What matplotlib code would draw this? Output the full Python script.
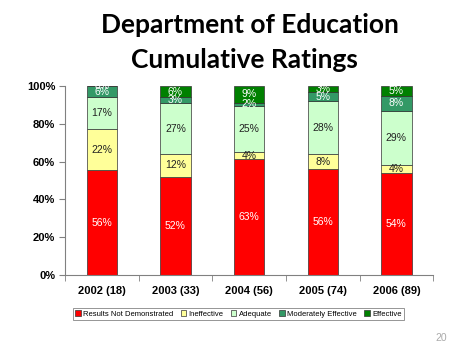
import numpy as np
import matplotlib.pyplot as plt
from matplotlib.patches import Patch

years = ["2002 (18)", "2003 (33)", "2004 (56)", "2005 (74)", "2006 (89)"]
series_names = ["Results Not Demonstrated", "Ineffective", "Adequate",
                "Moderately Effective", "Effective"]

not_demonstrated = [56, 52, 63, 56, 54]
ineffective = [22, 12, 4, 8, 4]
adequate = [17, 27, 25, 28, 29]
moderately = [6, 3, 2, 5, 8]
effective = [0, 6, 9, 3, 5]

COLORS = {
    "red": "#ff0000",
    "yellow": "#ffff99",
    "lightgreen": "#ccffcc",
    "midgreen": "#339966",
    "darkgreen": "#008000",
    "axis": "#808080",
}
fills = [COLORS["red"], COLORS["yellow"], COLORS["lightgreen"],
         COLORS["midgreen"], COLORS["darkgreen"]]
text_colors = ["white", "#222222", "#222222", "white", "white"]

plt.rcParams["font.family"] = ["Liberation Sans", "DejaVu Sans"]

fig = plt.figure(figsize=(4.74, 3.55), dpi=100, facecolor="white")
ax = fig.add_axes([0.137, 0.2254, 0.777, 0.532])

data = np.array([not_demonstrated, ineffective, adequate, moderately, effective], dtype=float)
totals = data.sum(axis=0)
shares = data / totals * 100  # bars are drawn as 100% stacks
x = np.arange(len(years))

bottom = np.zeros(len(years))
for vals, raw, fc, tc in zip(shares, data, fills, text_colors):
    ax.bar(x, vals, 0.41, bottom=bottom, color=fc, edgecolor="#333333", lw=0.5)
    for xi, b, v, r in zip(x, bottom, vals, raw):
        ax.text(xi, b + v / 2, f"{r:.0f}%", ha="center", va="center",
                fontsize=7.5, color=tc)
    bottom += vals

ax.set_xlim(-0.5, len(years) - 0.5)
ax.set_ylim(0, 100)
ax.set_yticks(np.arange(0, 101, 20))
ax.set_yticklabels([f"{v}%" for v in range(0, 101, 20)], fontsize=8, fontweight="bold")
ax.set_xticks(x)
ax.set_xticklabels(years, fontsize=8, fontweight="bold")
ax.set_xticks(np.arange(-0.5, len(years)), minor=True)
ax.tick_params(axis="x", which="major", length=0, pad=8)
ax.tick_params(axis="x", which="minor", length=4, color=COLORS["axis"], direction="out")
ax.tick_params(axis="y", length=4, color=COLORS["axis"], direction="out", pad=3)

for side in ["top", "right"]:
    ax.spines[side].set_visible(False)
for side in ["left", "bottom"]:
    ax.spines[side].set_color(COLORS["axis"])
    ax.spines[side].set_linewidth(0.8)

handles = [Patch(facecolor=fc, edgecolor="#333333", lw=0.5) for fc in fills]
leg = fig.legend(handles, series_names, loc="center", bbox_to_anchor=(0.503, 0.1155),
                 ncol=5, fontsize=5.5, frameon=True, fancybox=False,
                 handlelength=0.7, handleheight=0.7, handletextpad=0.3,
                 columnspacing=1.0, borderpad=0.35)
leg.get_frame().set_edgecolor("#666666")
leg.get_frame().set_linewidth(0.6)

title_font = dict(ha="center", va="baseline", fontsize=19, fontweight="bold",
                  family=["Lato", "DejaVu Sans"])
fig.text(0.527, 0.907, "Department of Education", **title_font)
fig.text(0.515, 0.8085, "Cumulative Ratings", **title_font)

fig.text(0.93, 0.048, "20", ha="center", va="center", fontsize=7.5, color="#aaaaaa")

fig.savefig("out.png", dpi=100)
